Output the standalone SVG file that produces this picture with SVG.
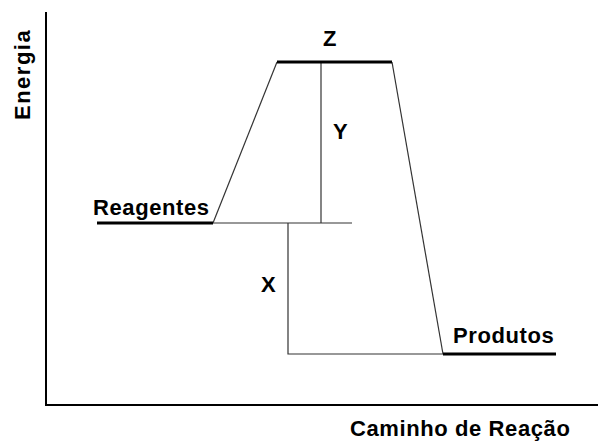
<svg xmlns="http://www.w3.org/2000/svg" width="600" height="448" viewBox="0 0 600 448">
<style>
text{font-family:"Liberation Sans",Arial,sans-serif;font-weight:bold;font-size:22px;fill:#000;letter-spacing:0.6px}
.thin{stroke:#333;stroke-width:1.2;fill:none}
.thick{stroke:#000;stroke-width:3;fill:none}
</style>
<rect width="600" height="448" fill="#fff"/>
<g id="axes">
<path d="M46 12 V405 H598" stroke="#000" stroke-width="2" fill="none"/>
<text transform="translate(30,120) rotate(-90)" style="font-size:22px;letter-spacing:1.5px">Energia</text>
<text x="350" y="436">Caminho de Reação</text>
</g>
<g id="connectors">
<line class="thin" x1="213" y1="223" x2="352" y2="223"/>
<line class="thin" x1="213" y1="223" x2="277" y2="62"/>
<line class="thin" x1="321" y1="62" x2="321" y2="223"/>
<line class="thin" x1="392" y1="62" x2="443" y2="354"/>
<polyline class="thin" points="288,223 288,354 443,354"/>
</g>
<g id="reagentes"><line class="thick" x1="97" y1="223" x2="213" y2="223"/><text x="93" y="215">Reagentes</text></g>
<g id="z"><line class="thick" x1="277" y1="62" x2="392" y2="62"/><text x="323" y="46">Z</text></g>
<g id="y"><text x="333" y="139">Y</text></g>
<g id="x"><text x="261" y="292">X</text></g>
<g id="produtos"><line class="thick" x1="443" y1="354" x2="556" y2="354"/><text x="453" y="343">Produtos</text></g>
</svg>
